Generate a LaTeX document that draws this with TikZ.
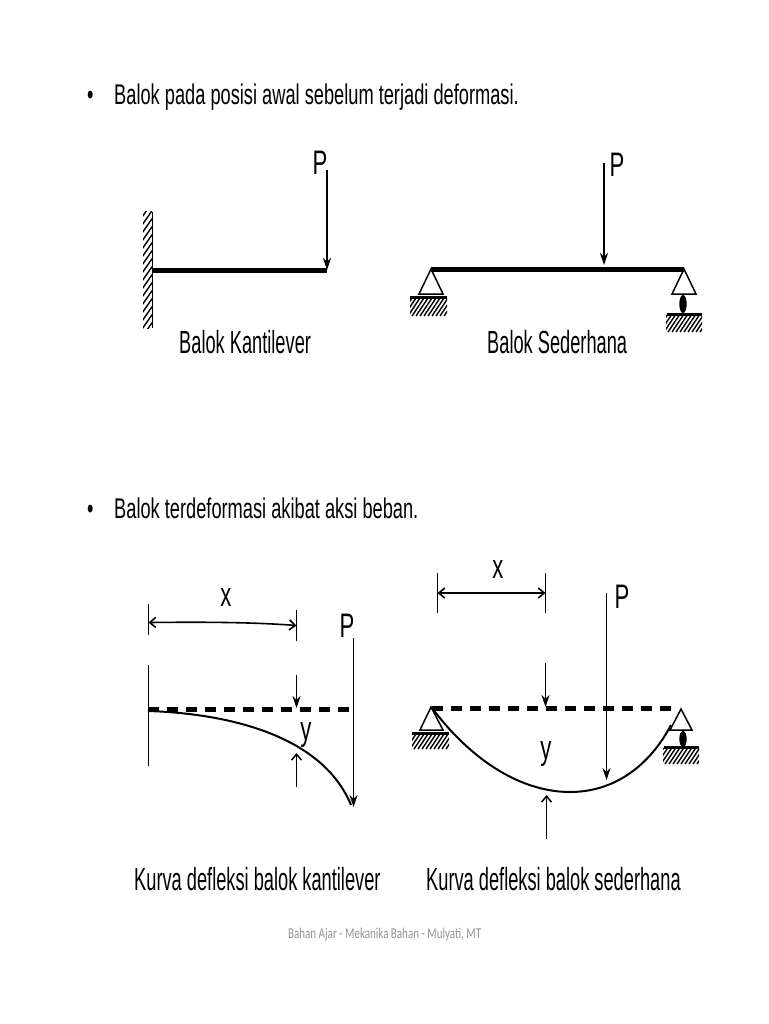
\documentclass[tikz,border=0pt]{standalone}
\usepackage{fontspec}
\setmainfont[FakeStretch=0.64]{Liberation Sans}
\newfontfamily\lblfont[FakeStretch=0.57]{Liberation Sans}
\newfontfamily\symfont[FakeStretch=0.65]{Liberation Sans}
\newfontfamily\footfont[FakeStretch=0.733]{Carlito}
\usetikzlibrary{arrows.meta}
\tikzset{
  lbl/.style={inner sep=0pt,font=\lblfont\fontsize{32}{34}\selectfont,anchor=base west},
  head/.style={inner sep=0pt,font=\fontsize{28.5}{30}\selectfont,anchor=base west},
  sym/.style={inner sep=0pt,font=\symfont\fontsize{34}{36}\selectfont,anchor=center},
  beam/.style={line width=5pt},
  thin line/.style={line width=1.5pt},
  load/.style={line width=1.5pt,-{Stealth[length=12pt,width=8pt]}},
  open/.style={line width=1.6pt,{Straight Barb[length=6pt,width=10pt]}-{Straight Barb[length=6pt,width=10pt]}},
  dim/.style={line width=1.5pt,-{Straight Barb[length=6pt,width=10pt]}},
  dash line/.style={line width=5pt,dash pattern=on 11pt off 8pt},
  curve/.style={line width=2pt},
  tri/.style={line width=1.5pt,fill=white,line join=miter},
  ground/.style={line width=3pt}
}
\newcommand{\hatchbox}[4]{% x1,y1,x2,y2
  \begin{scope}
    \clip (#1,#2) rectangle (#3,#4);
    \foreach \k in {-30,-26,...,60} {
      \draw[line width=1.4pt] ({#1+\k},#4) -- ++(16,-24);
    }
  \end{scope}
}
\begin{document}
\begin{tikzpicture}[x=1pt,y=-1pt]
\useasboundingbox[fill=white] (0,0) rectangle (768,1024);
% headings
\node[head] (b1) at (87,105) {•};
\node[head] (h1) at (114,105) {Balok pada posisi awal sebelum terjadi deformasi.};
\node[head] (b2) at (87,518) {•};
\node[head] (h2) at (114,518) {Balok terdeformasi akibat aksi beban.};
% cantilever
\begin{scope}
 \clip (143,212) rectangle (152,328);
 \foreach \k in {0,8,...,140} {\draw[line width=1.4pt] (140,{212+\k}) -- ++(14,-20);}
\end{scope}
\coordinate (w1) at (152.5,212); \coordinate (w2) at (152.5,328);
\draw[thin line] (w1) -- (w2);
\coordinate (c1) at (152,270); \coordinate (c2) at (327,270); \coordinate (cp) at (327,170);
\draw[beam] (c1) -- (c2);
\draw[load] (cp) -- (c2);
\node[sym] (pa) at (320,163) {P};
\node[lbl] (la) at (179,353) {Balok Kantilever};
% simple beam
\coordinate (s1) at (431,269); \coordinate (s2) at (684,269);
\coordinate (sp) at (604,163); \coordinate (sq) at (604,265);
\draw[load] (sp) -- (sq);
\node[sym] (pb) at (617,165) {P};
\draw[tri] (s1) -- (419,294) -- (443,294) -- cycle;
\draw[tri] (s2) -- (672,294) -- (696,294) -- cycle;
\draw[beam] (s1) -- (s2);
\hatchbox{410}{297}{447}{316}
\draw[ground] (410,297) -- (447,297);
\fill (683,304) ellipse (3.7 and 9);
\hatchbox{666}{314}{702}{332}
\draw[ground] (667,314) -- (702,314);
\node[lbl] (lb) at (487,353) {Balok Sederhana};
% deflected cantilever
\coordinate (t1) at (148.5,604); \coordinate (t2) at (148.5,635);
\draw[thin line] (t1) -- (t2);
\coordinate (t3) at (296.5,610); \coordinate (t4) at (296.5,641);
\draw[thin line] (t3) -- (t4);
\draw[open] (148.5,622.5) .. controls (200,622) and (250,622) .. (296.5,625.5);
\node[sym] (xa) at (226,598) {x};
\node[sym] (pc) at (347,626) {P};
\coordinate (v1) at (148.5,665); \coordinate (v2) at (148.5,766);
\draw[thin line] (v1) -- (v2);
\coordinate (d1) at (148,709); \coordinate (d2) at (351,709);
\draw[dash line] (d1) -- (d2);
\draw[curve] (148,711) .. controls (215,713) and (320,730) .. (351,805);
\coordinate (q1) at (353.5,638); \coordinate (q2) at (353.5,807);
\draw[load] (q1) -- (q2);
\coordinate (a1) at (296.5,675); \coordinate (a2) at (296.5,708);
\draw[load] (a1) -- (a2);
\coordinate (a3) at (296.5,787); \coordinate (a4) at (296.5,753);
\draw[dim] (a3) -- (a4);
\node[sym] (ya) at (306,735) {y};
\node[lbl] (lc) at (134,890) {Kurva defleksi balok kantilever};
% deflected simple
\coordinate (u1) at (437.5,573); \coordinate (u2) at (437.5,613);
\draw[thin line] (u1) -- (u2);
\coordinate (u3) at (545.5,573); \coordinate (u4) at (545.5,613);
\draw[thin line] (u3) -- (u4);
\draw[open] (437.5,593) -- (545.5,593);
\node[sym] (xb) at (498,570) {x};
\node[sym] (pd) at (622,597) {P};
\draw[tri] (431,707) -- (420,730) -- (443,730) -- cycle;
\draw[tri] (681,709) -- (670,730) -- (692,730) -- cycle;
\hatchbox{412}{733}{449}{749}
\draw[ground] (412,733) -- (449,733);
\fill (683,739) ellipse (3.7 and 8);
\hatchbox{663}{748}{699}{764}
\draw[ground] (664,747) -- (699,747);
\coordinate (e1) at (432,708.5); \coordinate (e2) at (675,708.5);
\draw[dash line] (e1) -- (e2);
\draw[curve] (432,708) .. controls (475,765) and (525,792) .. (570,792) .. controls (615,792) and (650,765) .. (671,725);
\coordinate (r1) at (606.5,593); \coordinate (r2) at (606.5,780);
\draw[load] (r1) -- (r2);
\coordinate (f1) at (545.5,663); \coordinate (f2) at (545.5,707);
\draw[load] (f1) -- (f2);
\coordinate (f3) at (546.5,839); \coordinate (f4) at (546.5,795);
\draw[dim] (f3) -- (f4);
\node[sym] (yb) at (546,754) {y};
\node[lbl] (ld) at (426,890) {Kurva defleksi balok sederhana};
% footer
\node[inner sep=0pt,anchor=base west,text=black!42,font=\footfont\fontsize{15}{16}\selectfont] (ft) at (288,938) {Bahan Ajar - Mekanika Bahan - Mulyati, MT};
\end{tikzpicture}
\end{document}
